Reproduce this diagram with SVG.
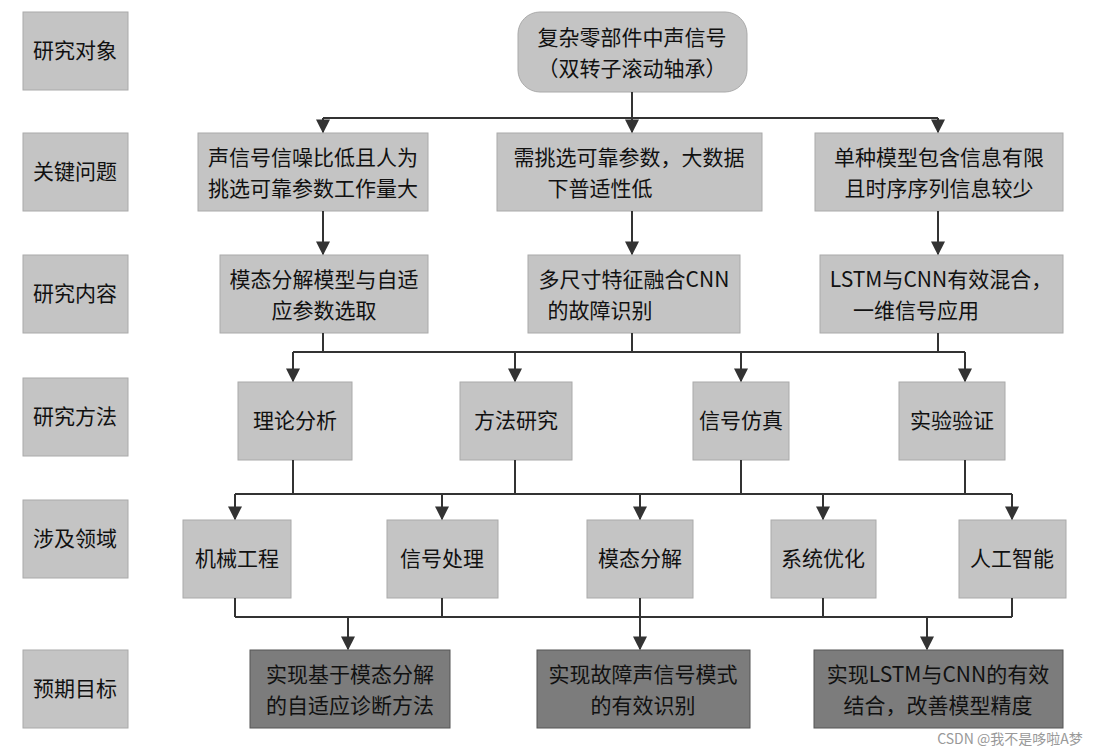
<svg xmlns="http://www.w3.org/2000/svg" width="1094" height="747" viewBox="0 0 1094 747">
<style>
text{font-family:"Noto Sans CJK SC","Liberation Sans",sans-serif;font-size:21px;fill:#111;text-anchor:middle}
.l{fill:#c4c4c4;stroke:#aaa;stroke-width:1}
.d{fill:#7c7c7c;stroke:#555;stroke-width:1}
.c{stroke:#333;stroke-width:2;fill:none}
</style>
<defs><marker id="a" viewBox="0 0 10 10" refX="9" refY="5" markerWidth="7" markerHeight="7" orient="auto"><path d="M0,0L10,5L0,10z" fill="#333"/></marker></defs>
<rect width="1094" height="747" fill="#fff"/>
<g id="labels">
<g id="L1"><rect class="l" x="23" y="12" width="105" height="78"/><text x="75" y="58">研究对象</text></g>
<g id="L2"><rect class="l" x="23" y="133" width="105" height="78"/><text x="75" y="179">关键问题</text></g>
<g id="L3"><rect class="l" x="23" y="255" width="105" height="78"/><text x="75" y="301">研究内容</text></g>
<g id="L4"><rect class="l" x="23" y="378" width="105" height="78"/><text x="75" y="424">研究方法</text></g>
<g id="L5"><rect class="l" x="23" y="500" width="105" height="78"/><text x="75" y="546">涉及领域</text></g>
<g id="L6"><rect class="l" x="23" y="650" width="105" height="78"/><text x="75" y="696">预期目标</text></g>
</g>
<g id="top"><rect class="l" x="518" y="12" width="229" height="80" rx="22" stroke="#333" stroke-width="1.5"/><text x="632" y="45">复杂零部件中声信号</text><text x="632" y="76">（双转子滚动轴承）</text></g>
<g id="p1"><rect class="l" x="198" y="133" width="230" height="78"/><text x="313" y="165">声信号信噪比低且人为</text><text x="313" y="196">挑选可靠参数工作量大</text></g>
<g id="p2"><rect class="l" x="497" y="133" width="265" height="78"/><text x="629" y="165">需挑选可靠参数，大数据</text><text x="600" y="196">下普适性低</text></g>
<g id="p3"><rect class="l" x="815" y="133" width="248" height="78"/><text x="939" y="165">单种模型包含信息有限</text><text x="939" y="196">且时序序列信息较少</text></g>
<g id="c1"><rect class="l" x="220" y="255" width="208" height="78"/><text x="324" y="287">模态分解模型与自适</text><text x="324" y="318">应参数选取</text></g>
<g id="c2"><rect class="l" x="528" y="255" width="212" height="78"/><text x="634" y="287">多尺寸特征融合CNN</text><text x="600" y="318">的故障识别</text></g>
<g id="c3"><rect class="l" x="820" y="255" width="243" height="78"/><text x="941" y="287">LSTM与CNN有效混合，</text><text x="916" y="318">一维信号应用</text></g>
<g id="m1"><rect class="l" x="238" y="382" width="114" height="78"/><text x="295" y="428">理论分析</text></g>
<g id="m2"><rect class="l" x="460" y="382" width="112" height="78"/><text x="516" y="428">方法研究</text></g>
<g id="m3"><rect class="l" x="693" y="382" width="96" height="78"/><text x="741" y="428">信号仿真</text></g>
<g id="m4"><rect class="l" x="899" y="382" width="106" height="78"/><text x="952" y="428">实验验证</text></g>
<g id="f1"><rect class="l" x="183" y="520" width="108" height="78"/><text x="237" y="566">机械工程</text></g>
<g id="f2"><rect class="l" x="387" y="520" width="111" height="78"/><text x="442" y="566">信号处理</text></g>
<g id="f3"><rect class="l" x="587" y="520" width="106" height="78"/><text x="640" y="566">模态分解</text></g>
<g id="f4"><rect class="l" x="771" y="520" width="105" height="78"/><text x="823" y="566">系统优化</text></g>
<g id="f5"><rect class="l" x="959" y="520" width="107" height="78"/><text x="1012" y="566">人工智能</text></g>
<g id="g1"><rect class="d" x="250" y="650" width="200" height="78"/><text x="350" y="682">实现基于模态分解</text><text x="350" y="713">的自适应诊断方法</text></g>
<g id="g2"><rect class="d" x="537" y="650" width="213" height="78"/><text x="643" y="682">实现故障声信号模式</text><text x="643" y="713">的有效识别</text></g>
<g id="g3"><rect class="d" x="814" y="650" width="249" height="78"/><text x="938" y="682">实现LSTM与CNN的有效</text><text x="938" y="713">结合，改善模型精度</text></g>
<g id="connectors">
<path class="c" d="M632 92V118M323 118H938"/>
<path class="c" d="M323 118V132" marker-end="url(#a)"/><path class="c" d="M632 118V132" marker-end="url(#a)"/><path class="c" d="M938 118V132" marker-end="url(#a)"/>
<path class="c" d="M323 211V254" marker-end="url(#a)"/><path class="c" d="M632 211V254" marker-end="url(#a)"/><path class="c" d="M938 211V254" marker-end="url(#a)"/>
<path class="c" d="M323 333V352M632 333V352M938 333V352M293 352H965"/>
<path class="c" d="M293 352V381" marker-end="url(#a)"/><path class="c" d="M515 352V381" marker-end="url(#a)"/><path class="c" d="M741 352V381" marker-end="url(#a)"/><path class="c" d="M965 352V381" marker-end="url(#a)"/>
<path class="c" d="M293 460V494M515 460V494M741 460V494M965 460V494M235 494H1012"/>
<path class="c" d="M235 494V519" marker-end="url(#a)"/><path class="c" d="M442 494V519" marker-end="url(#a)"/><path class="c" d="M640 494V519" marker-end="url(#a)"/><path class="c" d="M823 494V519" marker-end="url(#a)"/><path class="c" d="M1012 494V519" marker-end="url(#a)"/>
<path class="c" d="M235 598V617M442 598V617M640 598V617M823 598V617M1012 598V617M235 617H1012"/>
<path class="c" d="M348 617V649" marker-end="url(#a)"/><path class="c" d="M640 617V649" marker-end="url(#a)"/><path class="c" d="M927 617V649" marker-end="url(#a)"/>
</g>
<text x="1010" y="744" style="font-size:14px;fill:#999">CSDN @我不是哆啦A梦</text>
</svg>
